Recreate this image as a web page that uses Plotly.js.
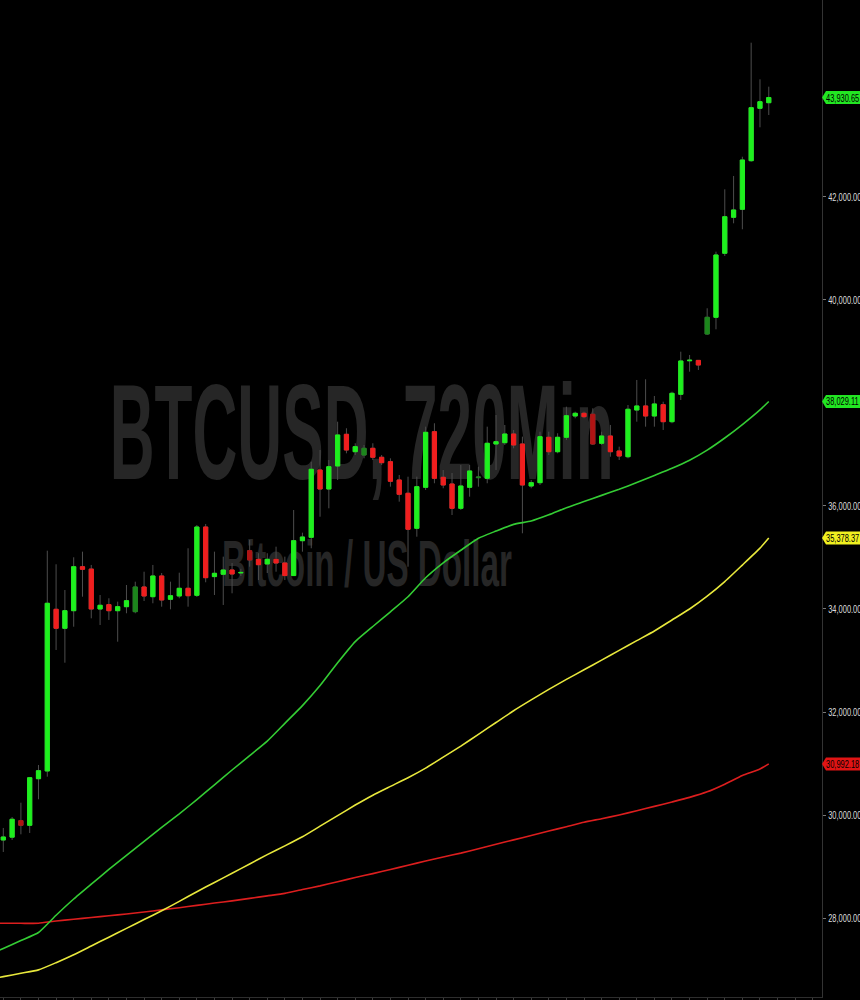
<!DOCTYPE html>
<html>
<head>
<meta charset="utf-8">
<script src="https://cdn.plot.ly/plotly-3.0.1.min.js"></script>
<style>
html,body{margin:0;padding:0;background:#000;}
#chart{width:860px;height:1000px;}
</style>
</head>
<body>
<div id="chart"></div>
<script>
// ---- BTCUSD 720-minute candles ----
const openP = [29515,29570,29890,29800,30705,30855,33994,33625,33967,34821,
  34775,34000,34084,33967,34045,33948,34427,34239,34641,34188,
  34253,34402,34266,35592,34629,34674,34757,34700,35132,34965,
  34874,34965,34893,34649,35326,35392,36699,36330,36777,37392,
  37054,36990,37120,36946,36860,36505,36247,35567,36363,37443,
  36557,36427,35955,36363,36550,36538,37204,37229,37398,37204,
  36388,36453,37334,37054,37334,37748,37800,37781,37218,37359,
  37068,36957,37864,37942,37748,37967,37637,38169,38820,38827,
  39340,39664,40907,41606,41761,42705,43722,43831];
const highP = [29748,29961,30239,30738,30971,35132,34868,34369,35004,35113,
  34855,34272,34208,34142,34466,34530,34724,34855,34699,34530,
  34705,35179,35631,35650,35113,35016,34893,34780,35340,35082,
  35082,35210,35016,35922,35482,36860,37087,36893,37637,37509,
  37218,37185,37218,36990,36926,36602,36569,36569,37540,37606,
  36699,36641,36796,36796,36763,37540,37767,37573,37476,37346,
  36505,37443,37443,37412,37928,37831,37831,37897,37443,37573,
  37152,37961,38447,38460,38136,38025,38219,38996,38932,38835,
  39839,40938,42149,42408,42782,44996,44285,44142];
const lowP = [29282,29515,29625,29651,30305,30744,33204,32957,33656,34239,
  33819,33689,33787,33365,33917,33917,34155,34111,34045,33994,
  34208,34045,34233,34519,34272,34078,34305,34640,34821,34563,
  34699,34724,34563,34641,35113,35179,35792,35955,36505,37023,
  36990,36926,36893,36796,36375,36084,34821,35404,36311,36441,
  36344,35825,35922,36181,36375,36441,36699,37185,37120,35470,
  36344,36408,36990,37023,37282,37703,37703,37185,37185,36957,
  36893,36926,37637,37540,37540,37476,37606,38058,38608,38641,
  39320,39431,40854,41489,41373,42685,43353,43592];
const closeP = [29573,29917,29800,30724,30860,34111,33625,33967,34821,34771,
  34000,34072,33967,34045,34161,34427,34253,34641,34175,34258,
  34402,34258,35592,34608,34693,34757,34680,34710,34952,34860,
  34965,34893,34649,35326,35398,36713,36330,36763,37379,37087,
  37152,37120,36946,36841,36480,36227,35548,36375,37431,36538,
  36408,35955,36388,36680,36560,37218,37249,37398,37185,36408,
  36453,37346,37054,37334,37753,37800,37734,37204,37359,37054,
  36971,37878,37942,37748,37981,37637,38188,38816,38830,38738,
  39664,40874,41617,41748,42718,43734,43850,43930.65];
// candles drawn in the dimmer shade
const dimIdx = [2,15,28,41,54,67,80];

// ---- moving averages (read at candle indices) ----
const maIdx = [-1,0,2,4,6,8,10,12,14,16,18,20,22,24,26,28,30,32,34,36,38,40,42,44,
  46,48,50,52,54,56,58,60,62,64,66,68,70,72,74,76,78,80,82,84,86,87];
const maFast = [27330,27408,27562,27719,28053,28369,28657,28942,29218,29488,29761,30022,
  30299,30587,30874,31154,31435,31779,32124,32513,32956,33367,33660,33946,
  34237,34606,34897,35140,35373,35513,35643,35709,35829,35967,36087,36206,
  36324,36454,36592,36732,36889,37085,37320,37581,37866,38029.11];
const maMid = [26829,26861,26927,26993,27132,27286,27457,27628,27798,27969,28140,28323,
  28511,28690,28868,29049,29230,29400,29577,29783,29987,30193,30385,30556,
  30724,30911,31124,31338,31567,31796,32025,32235,32439,32633,32820,33008,
  33196,33385,33573,33787,34000,34249,34532,34853,35181,35378.37];
const maSlow = [27897,27897,27897,27897,27942,27975,28009,28043,28078,28117,28157,28200,
  28245,28290,28332,28381,28429,28478,28554,28624,28705,28785,28862,28942,
  29024,29107,29185,29260,29346,29431,29517,29602,29688,29773,29859,29928,
  30001,30082,30167,30253,30342,30449,30598,30767,30892,30992.18];

// ---- axis ticks, last-value tags and watermark texts ----
const yTicks = [28000,30000,32000,34000,36000,40000,42000];
const tagValues = [43930.65, 38029.11, 35378.37, 30992.18];
const tagColors = ['#22e622','#22e622','#f0f020','#e01414'];
const watermarkTitle = 'BTCUSD, 720Min';
const watermarkSub = 'Bitcoin / US Dollar';

const LABEL_FONT = 'Liberation Sans, Arial, sans-serif';
const idx = openP.map((_, i) => i);
const isDim = i => dimIdx.includes(i);

function pick(arr, keep) { return arr.filter((_, i) => keep(i)); }
function bodyTrace(keep, up, down) {
  const o = pick(openP, keep), c = pick(closeP, keep);
  return {
    type: 'candlestick', x: pick(idx, keep), open: o, close: c,
    high: o.map((v, k) => Math.max(v, c[k])), low: o.map((v, k) => Math.min(v, c[k])),
    increasing: {line: {color: up, width: 1}, fillcolor: up},
    decreasing: {line: {color: down, width: 1}, fillcolor: down},
    hoverinfo: 'skip'
  };
}

const wickColor = '#4d4d4d';
const maLine = (color) => ({color: color, width: 1.6, shape: 'spline', smoothing: 0.5});
const traces = [
  {type: 'candlestick', x: idx, open: openP, high: highP, low: lowP, close: closeP,
   increasing: {line: {color: wickColor, width: 1}, fillcolor: wickColor},
   decreasing: {line: {color: wickColor, width: 1}, fillcolor: wickColor}, hoverinfo: 'skip'},
  bodyTrace(i => !isDim(i), '#1ef01e', '#f01e1e'),
  bodyTrace(i => isDim(i), '#1c861c', '#b01414'),
  {type: 'scatter', mode: 'lines', x: maIdx, y: maSlow, line: maLine('#dc1e1e'), hoverinfo: 'skip'},
  {type: 'scatter', mode: 'lines', x: maIdx, y: maMid, line: maLine('#e8e83c'), hoverinfo: 'skip'},
  {type: 'scatter', mode: 'lines', x: maIdx, y: maFast, line: maLine('#34cc34'), hoverinfo: 'skip'}
];

const fmt = v => v.toLocaleString('en-US', {minimumFractionDigits: 2, maximumFractionDigits: 2});

const shapes = [
  {type: 'rect', xref: 'paper', yref: 'paper', x0: 0.2, x1: 0.68, y0: 0.529, y1: 0.629,
   line: {width: 0}, fillcolor: 'rgba(0,0,0,0)', layer: 'below',
   label: {text: '<b>' + watermarkTitle + '</b>', textposition: 'middle center',
           font: {family: LABEL_FONT, size: 135, color: '#262626'}}},
  {type: 'rect', xref: 'paper', yref: 'paper', x0: 0.25, x1: 0.643, y0: 0.415, y1: 0.465,
   line: {width: 0}, fillcolor: 'rgba(0,0,0,0)', layer: 'below',
   label: {text: '<b>' + watermarkSub + '</b>', textposition: 'middle center',
           font: {family: LABEL_FONT, size: 64, color: '#262626'}}}
];
const annotations = [];
tagValues.forEach((v, k) => {
  shapes.push({type: 'path', xref: 'paper', yref: 'y', xsizemode: 'pixel', ysizemode: 'pixel',
    xanchor: 1, yanchor: v, path: 'M0,0 L4,6.5 L40,6.5 L40,-6.5 L4,-6.5 Z',
    fillcolor: tagColors[k], line: {width: 0}, layer: 'above'});
  annotations.push({xref: 'paper', x: 1, xanchor: 'left', xshift: 2, yref: 'y', y: v,
    yanchor: 'middle', text: fmt(v), showarrow: false,
    font: {family: LABEL_FONT, size: 11, color: '#000'}});
});

const layout = {
  width: 860, height: 1000,
  paper_bgcolor: '#000', plot_bgcolor: 'rgba(0,0,0,0)',
  margin: {l: 0, r: 38, t: 0, b: 3, pad: 0},
  showlegend: false, boxgap: 0.32, boxmode: 'overlay',
  xaxis: {range: [-0.375, 93.05], showgrid: false, zeroline: false, showticklabels: false,
    ticks: 'outside', ticklen: 3, tickcolor: '#3c3c3c', tick0: 0, dtick: 2,
    showline: true, linecolor: '#2e2e2e', rangeslider: {visible: false}, fixedrange: true},
  yaxis: {side: 'right', range: [26466, 45825], showgrid: false, zeroline: false,
    tickvals: yTicks, tickformat: ',.2f', ticks: 'outside', ticklen: 3, tickcolor: '#777',
    tickfont: {family: LABEL_FONT, size: 11, color: '#dcdcdc'},
    showline: true, linecolor: '#333', linewidth: 1, fixedrange: true},
  shapes: shapes,
  annotations: annotations
};

const widths = {};
widths[watermarkTitle] = 504;
widths[watermarkSub] = 290;

// condensed look: squeeze text horizontally (the reference uses a narrow face)
function squeeze(t, s, anchor) {
  const bb = t.getBBox();
  if (!bb.width) return;
  const x0 = anchor === 'center' ? bb.x + bb.width / 2 : bb.x;
  const tr = t.getAttribute('transform') || '';
  t.setAttribute('transform', tr + ' translate(' + x0 + ' 0) scale(' + s + ' 1) translate(' + (-x0) + ' 0)');
}

Plotly.newPlot('chart', traces, layout, {staticPlot: true, displayModeBar: false}).then(gd => {
  gd.querySelectorAll('text').forEach(t => {
    const w = widths[t.textContent];
    if (w) { squeeze(t, w / t.getBBox().width, 'center'); }
  });
  gd.querySelectorAll('.ytick text, .annotation-text').forEach(t => squeeze(t, 0.68, 'left'));
});
</script>
</body>
</html>
